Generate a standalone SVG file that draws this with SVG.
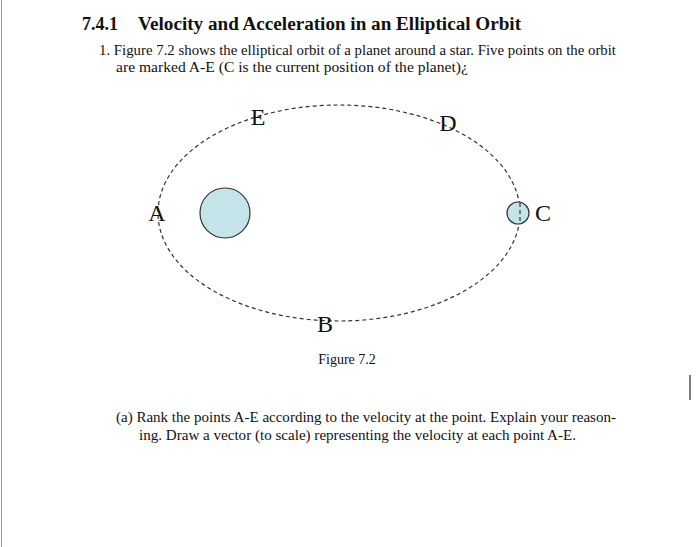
<svg xmlns="http://www.w3.org/2000/svg" width="700" height="547" viewBox="0 0 700 547">
<style>
text{font-family:"Liberation Serif",serif;fill:#111}
.lbl{font-size:24px;text-anchor:middle}
.body{font-size:14.5px}
</style>
<rect width="700" height="547" fill="#fff"/>
<line x1="1.5" y1="0" x2="1.5" y2="547" stroke="#999" stroke-width="1"/>
<line x1="690" y1="375" x2="690" y2="400" stroke="#555" stroke-width="1.5"/>
<text x="82" y="30" style="font-size:18px;font-weight:bold">7.4.1</text>
<text x="138" y="30" style="font-size:18px;font-weight:bold" textLength="383" lengthAdjust="spacingAndGlyphs">Velocity and Acceleration in an Elliptical Orbit</text>
<text class="body" x="99" y="55" textLength="517" lengthAdjust="spacingAndGlyphs">1. Figure 7.2 shows the elliptical orbit of a planet around a star. Five points on the orbit</text>
<text class="body" x="116" y="72" textLength="352" lengthAdjust="spacingAndGlyphs">are marked A-E (C is the current position of the planet)¿</text>
<g id="connectors">
<ellipse cx="339" cy="213" rx="181" ry="108" fill="none" stroke="#333" stroke-width="1.2" stroke-dasharray="4,3"/>
</g>
<g id="star"><circle cx="225" cy="213" r="25" fill="#c5e4e9" stroke="#333" stroke-width="1.2"/></g>
<g id="planet"><circle cx="518" cy="213" r="11" fill="#c5e4e9" stroke="#333" stroke-width="1.2"/>
<line x1="520" y1="203" x2="520" y2="223" stroke="#333" stroke-width="1.2" stroke-dasharray="4,3"/></g>
<g id="A"><text class="lbl" x="157" y="221">A</text></g>
<g id="B"><text class="lbl" x="325" y="332">B</text></g>
<g id="C"><text class="lbl" x="543" y="221">C</text></g>
<g id="D"><text class="lbl" x="448" y="131">D</text></g>
<g id="E"><text class="lbl" x="258" y="125">E</text></g>
<text x="347" y="364" style="font-size:14px;text-anchor:middle">Figure 7.2</text>
<text class="body" x="116" y="422" textLength="500" lengthAdjust="spacingAndGlyphs">(a) Rank the points A-E according to the velocity at the point. Explain your reason-</text>
<text class="body" x="139" y="440" textLength="437" lengthAdjust="spacingAndGlyphs">ing. Draw a vector (to scale) representing the velocity at each point A-E.</text>
</svg>
